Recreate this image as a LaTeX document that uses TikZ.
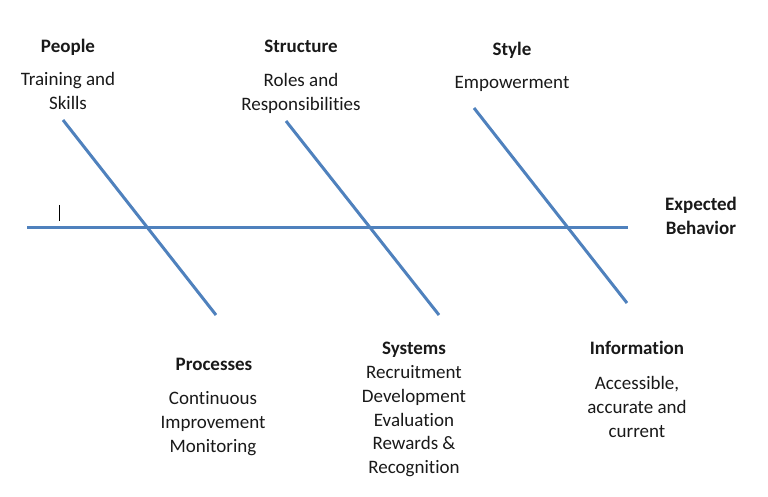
\documentclass[tikz,border=0pt]{standalone}
\usepackage{fontspec}
\setmainfont{Carlito}[RawFeature=-liga]
\newcommand\lns[1]{\begin{tabular}[t]{@{}c@{}}#1\end{tabular}}
\definecolor{bonecol}{RGB}{79,129,189}
\begin{document}
\begin{tikzpicture}[x=1pt,y=-1pt,
  bone/.style={draw=bonecol, line width=3pt},
  txt/.style={inner sep=0pt, anchor=base, text=black!90, font=\fontsize{19}{23.8}\selectfont},
  head/.style={txt, font=\fontsize{19}{23.8}\selectfont\bfseries}]
\useasboundingbox (0,0) rectangle (768,497);
% spine and bones
\coordinate (s1) at (27,227);
\coordinate (s2) at (628,227);
\coordinate (a1) at (63,120);
\coordinate (a2) at (216,315);
\coordinate (b1) at (286,121);
\coordinate (b2) at (439,315);
\coordinate (c1) at (474,108);
\coordinate (c2) at (627,303);
\coordinate (t1) at (59,205);
\coordinate (t2) at (59,221);
\draw[bone] (s1) -- (s2);
\draw[bone] (a1) -- (a2);
\draw[bone] (b1) -- (b2);
\draw[bone] (c1) -- (c2);
\draw[black, line width=1pt] (t1) -- (t2);
% top labels
\node[head] (people) at (68,52.5) {People};
\node[txt] (peopletxt) at (68,85.5) {\lns{Training and\\Skills}};
\node[head] (structure) at (301,52.5) {Structure};
\node[txt] (structtxt) at (301,86.5) {\lns{Roles and\\Responsibilities}};
\node[head] (style) at (512,55.5) {Style};
\node[txt] (styletxt) at (512,88.5) {Empowerment};
% effect
\node[head] (effect) at (701,210.5) {\lns{Expected\\Behavior}};
% bottom labels
\node[head] (processes) at (214,370.5) {Processes};
\node[txt] (proctxt) at (213,404.5) {\lns{Continuous\\Improvement\\Monitoring}};
\node[head] (systems) at (414,354.5) {Systems};
\node[txt] (systxt) at (414,378.5) {\lns{Recruitment\\Development\\Evaluation\\Rewards \&\\Recognition}};
\node[head] (information) at (637,354.5) {Information};
\node[txt] (infotxt) at (637,389.5) {\lns{Accessible,\\accurate and\\current}};
\end{tikzpicture}
\end{document}
